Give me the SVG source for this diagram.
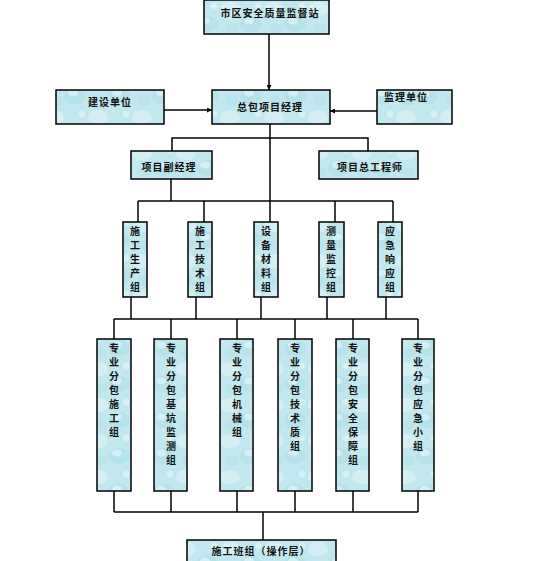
<svg xmlns="http://www.w3.org/2000/svg" width="552" height="561" viewBox="0 0 552 561">
<style>
.box{fill:url(#water);stroke:#000;stroke-width:1.5}
.t{font-family:"Noto Sans CJK SC","Noto Sans CJK TC",sans-serif;font-size:10px;font-weight:bold;fill:#111;text-anchor:middle}
.ln{stroke:#000;stroke-width:1.5;fill:none}
</style>
<defs>
<pattern id="water" patternUnits="userSpaceOnUse" width="44" height="36">
<rect width="44" height="36" fill="#c2e8ef"/>
<ellipse cx="10" cy="9" rx="10" ry="7" fill="#dcf4f8" opacity="0.7"/>
<ellipse cx="31" cy="24" rx="11" ry="8" fill="#a9dce6" opacity="0.5"/>
<ellipse cx="29" cy="21" rx="5" ry="3.5" fill="#e8f9fb" opacity="0.6"/>
<ellipse cx="12" cy="29" rx="7" ry="5" fill="#b2e0e9" opacity="0.5"/>
<circle cx="38" cy="6" r="3" fill="#e4f7fa" opacity="0.7"/>
</pattern>
<marker id="arr" viewBox="0 0 10 10" refX="10" refY="5" markerWidth="5" markerHeight="5" orient="auto" markerUnits="userSpaceOnUse">
<path d="M0,0 L10,5 L0,10 z" fill="#000"/>
</marker>
</defs>
<rect width="552" height="561" fill="#fff"/>
<g id="connectors">
<line class="ln" x1="269" y1="34" x2="269" y2="90" marker-end="url(#arr)"/>
<line class="ln" x1="164" y1="110" x2="212" y2="110" marker-end="url(#arr)"/>
<line class="ln" x1="377" y1="111" x2="330" y2="111" marker-end="url(#arr)"/>
<line class="ln" x1="270" y1="124" x2="270" y2="222"/>
<polyline class="ln" points="172,151 172,138 368,138 368,151"/>
<line class="ln" x1="171" y1="179" x2="171" y2="201"/>
<line class="ln" x1="138" y1="201" x2="393" y2="201"/>
<line class="ln" x1="138" y1="201" x2="138" y2="222"/>
<line class="ln" x1="204" y1="201" x2="204" y2="222"/>
<line class="ln" x1="335" y1="201" x2="335" y2="222"/>
<line class="ln" x1="393" y1="201" x2="393" y2="222"/>
<line class="ln" x1="131" y1="297" x2="131" y2="319"/>
<line class="ln" x1="196" y1="297" x2="196" y2="319"/>
<line class="ln" x1="261" y1="297" x2="261" y2="319"/>
<line class="ln" x1="327" y1="297" x2="327" y2="319"/>
<line class="ln" x1="386" y1="297" x2="386" y2="319"/>
<line class="ln" x1="114" y1="319" x2="418" y2="319"/>
<line class="ln" x1="114" y1="319" x2="114" y2="339"/>
<line class="ln" x1="171" y1="319" x2="171" y2="339"/>
<line class="ln" x1="237" y1="319" x2="237" y2="339"/>
<line class="ln" x1="295" y1="319" x2="295" y2="339"/>
<line class="ln" x1="353" y1="319" x2="353" y2="339"/>
<line class="ln" x1="418" y1="319" x2="418" y2="339"/>
<line class="ln" x1="114" y1="491" x2="114" y2="512"/>
<line class="ln" x1="171" y1="491" x2="171" y2="512"/>
<line class="ln" x1="237" y1="491" x2="237" y2="512"/>
<line class="ln" x1="295" y1="491" x2="295" y2="512"/>
<line class="ln" x1="353" y1="491" x2="353" y2="512"/>
<line class="ln" x1="418" y1="491" x2="418" y2="512"/>
<line class="ln" x1="114" y1="512" x2="418" y2="512"/>
<line class="ln" x1="263" y1="512" x2="263" y2="540"/>
</g>
<g id="n-supervise-station">
<rect class="box" x="204" y="0" width="125" height="34"/>
<text class="t" x="270" y="17" letter-spacing="1">市区安全质量监督站</text>
</g>
<g id="n-owner">
<rect class="box" x="56" y="90" width="108" height="34"/>
<text class="t" x="110" y="106" letter-spacing="1">建设单位</text>
</g>
<g id="n-pm">
<rect class="box" x="212" y="90" width="118" height="34"/>
<text class="t" x="270" y="111" letter-spacing="1">总包项目经理</text>
</g>
<g id="n-supervisor">
<rect class="box" x="377" y="90" width="75" height="34"/>
<text class="t" x="406" y="101" letter-spacing="1">监理单位</text>
</g>
<g id="n-deputy">
<rect class="box" x="131" y="151" width="81" height="28"/>
<text class="t" x="169" y="171" letter-spacing="1">项目副经理</text>
</g>
<g id="n-chief-eng">
<rect class="box" x="319" y="151" width="99" height="28"/>
<text class="t" x="370" y="171" letter-spacing="1">项目总工程师</text>
</g>
<g id="n-g1">
<rect class="box" x="123" y="222" width="24" height="75"/>
<text class="t"><tspan x="135" y="235">施</tspan><tspan x="135" dy="14">工</tspan><tspan x="135" dy="14">生</tspan><tspan x="135" dy="14">产</tspan><tspan x="135" dy="14">组</tspan></text>
</g>
<g id="n-g2">
<rect class="box" x="188" y="222" width="24" height="75"/>
<text class="t"><tspan x="200" y="235">施</tspan><tspan x="200" dy="14">工</tspan><tspan x="200" dy="14">技</tspan><tspan x="200" dy="14">术</tspan><tspan x="200" dy="14">组</tspan></text>
</g>
<g id="n-g3">
<rect class="box" x="254" y="222" width="24" height="75"/>
<text class="t"><tspan x="266" y="235">设</tspan><tspan x="266" dy="14">备</tspan><tspan x="266" dy="14">材</tspan><tspan x="266" dy="14">料</tspan><tspan x="266" dy="14">组</tspan></text>
</g>
<g id="n-g4">
<rect class="box" x="319" y="222" width="25" height="75"/>
<text class="t"><tspan x="331" y="235">测</tspan><tspan x="331" dy="14">量</tspan><tspan x="331" dy="14">监</tspan><tspan x="331" dy="14">控</tspan><tspan x="331" dy="14">组</tspan></text>
</g>
<g id="n-g5">
<rect class="box" x="378" y="222" width="24" height="75"/>
<text class="t"><tspan x="390" y="235">应</tspan><tspan x="390" dy="14">急</tspan><tspan x="390" dy="14">响</tspan><tspan x="390" dy="14">应</tspan><tspan x="390" dy="14">组</tspan></text>
</g>
<g id="n-s1">
<rect class="box" x="97" y="339" width="34" height="152"/>
<text class="t"><tspan x="114" y="352">专</tspan><tspan x="114" dy="14">业</tspan><tspan x="114" dy="14">分</tspan><tspan x="114" dy="14">包</tspan><tspan x="114" dy="14">施</tspan><tspan x="114" dy="14">工</tspan><tspan x="114" dy="14">组</tspan></text>
</g>
<g id="n-s2">
<rect class="box" x="154" y="339" width="33" height="152"/>
<text class="t"><tspan x="171" y="352">专</tspan><tspan x="171" dy="14">业</tspan><tspan x="171" dy="14">分</tspan><tspan x="171" dy="14">包</tspan><tspan x="171" dy="14">基</tspan><tspan x="171" dy="14">坑</tspan><tspan x="171" dy="14">监</tspan><tspan x="171" dy="14">测</tspan><tspan x="171" dy="14">组</tspan></text>
</g>
<g id="n-s3">
<rect class="box" x="220" y="339" width="33" height="152"/>
<text class="t"><tspan x="237" y="352">专</tspan><tspan x="237" dy="14">业</tspan><tspan x="237" dy="14">分</tspan><tspan x="237" dy="14">包</tspan><tspan x="237" dy="14">机</tspan><tspan x="237" dy="14">械</tspan><tspan x="237" dy="14">组</tspan></text>
</g>
<g id="n-s4">
<rect class="box" x="278" y="339" width="34" height="152"/>
<text class="t"><tspan x="295" y="352">专</tspan><tspan x="295" dy="14">业</tspan><tspan x="295" dy="14">分</tspan><tspan x="295" dy="14">包</tspan><tspan x="295" dy="14">技</tspan><tspan x="295" dy="14">术</tspan><tspan x="295" dy="14">质</tspan><tspan x="295" dy="14">组</tspan></text>
</g>
<g id="n-s5">
<rect class="box" x="336" y="339" width="33" height="152"/>
<text class="t"><tspan x="353" y="352">专</tspan><tspan x="353" dy="14">业</tspan><tspan x="353" dy="14">分</tspan><tspan x="353" dy="14">包</tspan><tspan x="353" dy="14">安</tspan><tspan x="353" dy="14">全</tspan><tspan x="353" dy="14">保</tspan><tspan x="353" dy="14">障</tspan><tspan x="353" dy="14">组</tspan></text>
</g>
<g id="n-s6">
<rect class="box" x="402" y="339" width="32" height="152"/>
<text class="t"><tspan x="418" y="352">专</tspan><tspan x="418" dy="14">业</tspan><tspan x="418" dy="14">分</tspan><tspan x="418" dy="14">包</tspan><tspan x="418" dy="14">应</tspan><tspan x="418" dy="14">急</tspan><tspan x="418" dy="14">小</tspan><tspan x="418" dy="14">组</tspan></text>
</g>
<g id="n-crew">
<rect class="box" x="187" y="540" width="149" height="24"/>
<text class="t" x="261" y="555" letter-spacing="1">施工班组（操作层）</text>
</g>
</svg>
